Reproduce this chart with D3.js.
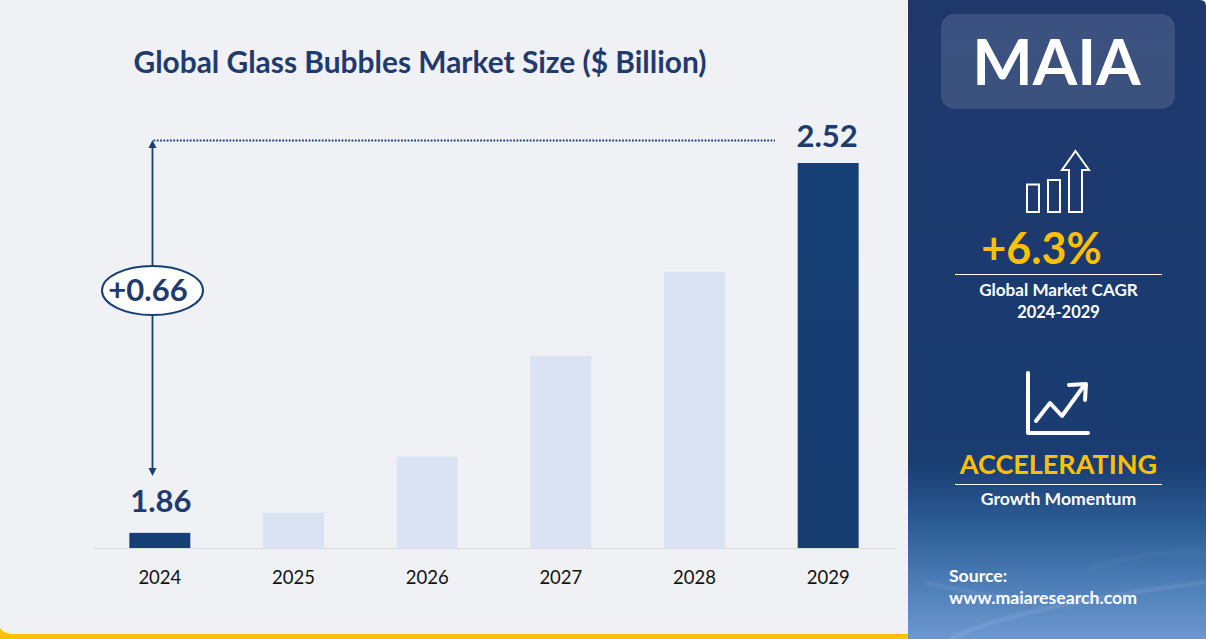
<!DOCTYPE html>
<html>
<head>
<meta charset="utf-8">
<script src="https://cdn.jsdelivr.net/npm/d3@7"></script>
<style>
  html, body { margin: 0; padding: 0; background: #fff; overflow: hidden; }
  svg { display: block; }
  text { font-family: Lato, "Open Sans", sans-serif; }
</style>
</head>
<body>
<svg id="chart" width="1206" height="639"></svg>
<script>
var years = ['2024', '2025', '2026', '2027', '2028', '2029'];
var sizes = [1.86, 1.896, 1.996, 2.176, 2.326, 2.52];
var labelled = ['2024', '2029'];
var titleText = 'Global Glass Bubbles Market Size ($ Billion)';
var deltaText = '+0.66';

var navy = '#1f3a6e';
var barDark = '#153f75';
var barLight = '#dae3f3';
var gold = '#ffc000';

var svg = d3.select('#chart');
var defs = svg.append('defs');

var grad = defs.append('linearGradient')
    .attr('id', 'panel').attr('x1', 0).attr('y1', 0).attr('x2', 0).attr('y2', 1);
[[0, '#1f386c'], [0.72, '#193c71'], [0.82, '#2b5c94'], [0.91, '#4b7cb5'], [1, '#6d98d2']].forEach(function(s) {
    grad.append('stop').attr('offset', s[0]).attr('stop-color', s[1]);
});

var barGrad = defs.append('linearGradient')
    .attr('id', 'lastBar').attr('x1', 0).attr('y1', 0).attr('x2', 0).attr('y2', 1);
barGrad.append('stop').attr('offset', 0).attr('stop-color', '#153f75');
barGrad.append('stop').attr('offset', 1).attr('stop-color', '#173c70');

defs.append('filter').attr('id', 'soft')
    .append('feGaussianBlur').attr('stdDeviation', 1.6);

// page background and bottom strip
svg.append('rect').attr('x', -12).attr('y', -12).attr('width', 940).attr('height', 651)
    .attr('rx', 10).attr('fill', gold);
svg.append('path').attr('d', 'M0,0H908V634H14Q4,634 0,628Z').attr('fill', '#f0f1f5');

// side panel
svg.append('path').attr('d', 'M908,0H1200Q1206,0 1206,6V639H908Z').attr('fill', 'url(#panel)');
var streaks = svg.append('g').attr('fill', 'none').attr('stroke', '#fff').attr('filter', 'url(#soft)');
streaks.append('path').attr('d', 'M925,582C960,590 990,598 1030,598').attr('stroke-width', 3).attr('opacity', 0.1);
streaks.append('path').attr('d', 'M950,639C1010,610 1110,595 1206,582').attr('stroke-width', 3).attr('opacity', 0.13);
streaks.append('path').attr('d', 'M1090,570C1130,555 1170,550 1206,552').attr('stroke-width', 4).attr('opacity', 0.04);

// scales
var x = d3.scaleBand().domain(years).range([93, 895]).paddingInner(0.544).paddingOuter(0.272);
var y = d3.scaleLinear().domain([1.833, 2.52]).range([548, 163]);

// bars
svg.append('g').selectAll('rect').data(years).enter().append('rect')
    .attr('x', function(d) { return x(d); })
    .attr('width', x.bandwidth())
    .attr('y', function(d, i) { return y(sizes[i]); })
    .attr('height', function(d, i) { return y.range()[0] - y(sizes[i]); })
    .attr('fill', function(d) {
        if (d === '2029') return 'url(#lastBar)';
        return labelled.indexOf(d) >= 0 ? barDark : barLight;
    });

// axis
var axis = svg.append('g').attr('transform', 'translate(0,548)')
    .call(d3.axisBottom(x).tickSize(0).tickPadding(23));
axis.select('.domain').attr('stroke', '#d9d9d9').attr('stroke-width', 1);
axis.selectAll('text')
    .style('font-family', 'Lato, sans-serif')
    .style('font-size', '18.5px')
    .attr('fill', '#111');

// value labels
svg.append('g').selectAll('text').data(labelled).enter().append('text')
    .attr('x', function(d) { return x(d) + x.bandwidth() / 2 + (d === '2024' ? 1 : -1); })
    .attr('y', function(d) { return y(sizes[years.indexOf(d)]) - (d === '2024' ? 21 : 16); })
    .attr('text-anchor', 'middle')
    .attr('font-size', 31).attr('font-weight', 700)
    .attr('fill', navy)
    .text(function(d) { return sizes[years.indexOf(d)].toFixed(2); });

// title
svg.append('text').attr('x', 420).attr('y', 73).attr('text-anchor', 'middle')
    .attr('font-size', 29.9).attr('font-weight', 700).attr('fill', navy)
    .text(titleText);

// difference annotation
var annX = 152.5;
var annTop = 140;
var annBottom = 476;
var ann = svg.append('g');
ann.append('line').attr('x1', annX + 1).attr('x2', 775).attr('y1', annTop + 0.5).attr('y2', annTop + 0.5)
    .attr('stroke', barDark).attr('stroke-width', 1.8).attr('stroke-dasharray', '1.8 1.5');
ann.append('line').attr('x1', annX).attr('x2', annX).attr('y1', annTop + 6).attr('y2', annBottom - 6)
    .attr('stroke', barDark).attr('stroke-width', 1.8);
ann.append('path').attr('d', d3.line()([[annX, annTop], [annX + 4, annTop + 8], [annX - 4, annTop + 8]]) + 'Z').attr('fill', barDark);
ann.append('path').attr('d', d3.line()([[annX, annBottom], [annX + 4, annBottom - 8], [annX - 4, annBottom - 8]]) + 'Z').attr('fill', barDark);
ann.append('ellipse').attr('cx', annX).attr('cy', 290.5).attr('rx', 50.5).attr('ry', 24.5)
    .attr('fill', '#fff').attr('stroke', barDark).attr('stroke-width', 2);
ann.append('text').attr('x', annX - 4.5).attr('y', 301).attr('text-anchor', 'middle')
    .attr('font-size', 31).attr('font-weight', 700).attr('fill', navy).text(deltaText);

// logo box
svg.append('rect').attr('x', 941).attr('y', 14).attr('width', 234).attr('height', 95).attr('rx', 14)
    .attr('fill', '#fff').attr('opacity', 0.13);
svg.append('text').attr('x', 1056.5).attr('y', 85).attr('text-anchor', 'middle')
    .attr('font-size', 64).attr('font-weight', 700).attr('fill', '#fff').text('MAIA');

// bar + arrow icon
var icon1 = svg.append('g').attr('fill', 'none').attr('stroke', '#fff').attr('stroke-width', 2);
icon1.append('rect').attr('x', 1027).attr('y', 184.5).attr('width', 12).attr('height', 27.5);
icon1.append('rect').attr('x', 1048).attr('y', 180).attr('width', 12).attr('height', 32);
icon1.append('path').attr('d', 'M1075.5,151L1089,170H1082V212H1069V170H1062Z');

// line chart icon
var icon2 = svg.append('g').attr('fill', 'none').attr('stroke', '#fff')
    .attr('stroke-width', 4).attr('stroke-linecap', 'round').attr('stroke-linejoin', 'round');
icon2.append('path').attr('d', 'M1028,373V433H1088');
icon2.append('path').attr('d', 'M1036,421L1050,403L1062,416L1083,387');
icon2.append('path').attr('d', 'M1069,385L1086,384L1085,400');

// side panel text
function sideText(str, px, py, size, color, anchor) {
    svg.append('text').attr('x', px).attr('y', py).attr('text-anchor', anchor || 'middle')
        .attr('font-size', size).attr('font-weight', 700).attr('fill', color).text(str);
}
sideText('+6.3%', 1041.5, 264, 43, gold);
sideText('Global Market CAGR', 1058.5, 296, 17.1, '#fff');
sideText('2024-2029', 1058.5, 318, 16.5, '#fff');
sideText('ACCELERATING', 1058.5, 474, 27, gold);
sideText('Growth Momentum', 1058.5, 505, 17.6, '#fff');
sideText('Source:', 949, 582, 17.6, '#fff', 'start');
sideText('www.maiaresearch.com', 949, 604, 17.7, '#fff', 'start');

svg.append('g').selectAll('line').data([274.5, 484.5]).enter().append('line')
    .attr('x1', 955).attr('x2', 1162)
    .attr('y1', function(d) { return d; }).attr('y2', function(d) { return d; })
    .attr('stroke', '#fff').attr('stroke-width', 1);
</script>
</body>
</html>
